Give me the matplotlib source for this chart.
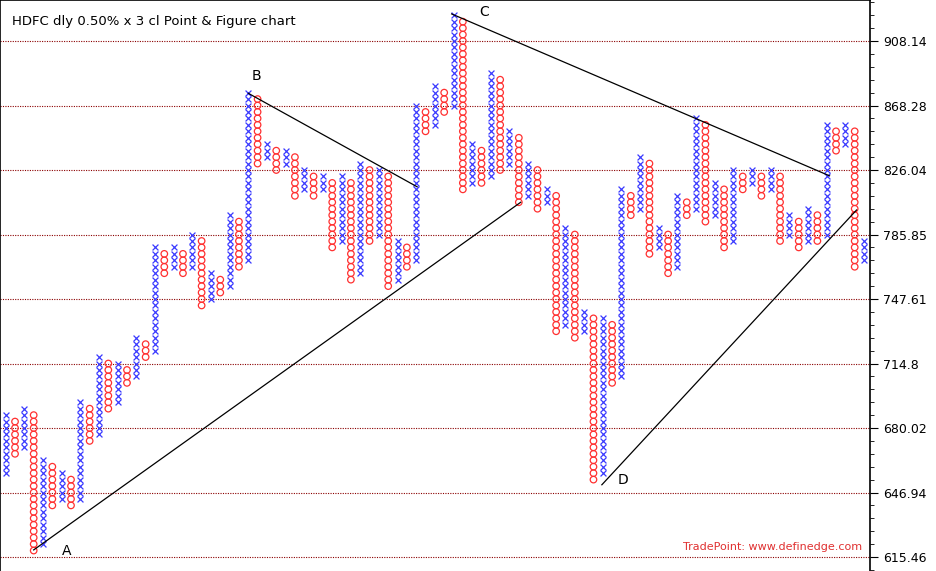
import matplotlib
matplotlib.use("Agg")
import matplotlib.pyplot as plt
import numpy as np

# columns alternate X, O starting with X; (low box, high box)
col_low = [13,16,17,1,2,8,9,8,9,18,19,23,24,27,28,31,32,44,45,44,45,39,40,41,42,45,46,61,62,60,61,56,
           57,56,57,48,49,43,44,49,50,42,43,45,46,66,67,69,70,57,58,58,59,60,61,55,56,54,55,35,
           36,34,35,12,13,27,28,53,54,47,48,44,45,53,54,52,53,48,49,57,58,56,57,49,50,48,49,49,50,63,64,45,46]
col_high = [22,21,23,22,15,14,13,12,24,23,31,30,30,29,34,33,48,47,48,47,50,49,44,43,53,52,72,71,64,63,63,62,
            60,59,59,58,59,58,61,60,60,59,49,48,70,69,73,72,84,83,64,63,75,74,66,65,61,60,57,56,
            51,50,38,37,37,36,57,56,62,61,51,50,56,55,68,67,58,57,60,59,60,59,60,59,53,52,54,53,67,66,67,66,49]
price_ticks_k = [0,10,20,30,40,50,60,70,80]
price_labels = ["615.46","646.94","680.02","714.8","747.61","785.85","826.04","868.28","908.14"]
trend_lines = [((3.0,1.1),(55.2,55.0)), ((26.0,71.9),(44.1,57.4)),
               ((47.8,84.2),(88.3,59.1)), ((63.9,11.2),(91.2,53.8))]
point_labels = [("A",6.0,1.0),("B",26.4,74.5),("C",50.8,84.5),("D",65.6,12.0)]

fig = plt.figure(figsize=(9.36,5.71), dpi=100)
ax = fig.add_axes([0,0,870/936,1])
xs_x, ys_x, xs_o, ys_o = [],[],[],[]
for i,(lo,hi) in enumerate(zip(col_low,col_high)):
    ks = list(range(lo,hi+1))
    if i%2==0:
        xs_x += [i]*len(ks); ys_x += ks
    else:
        xs_o += [i]*len(ks); ys_o += ks
ax.scatter(xs_x, ys_x, marker='x', s=18, c='#3a3aff', linewidths=0.9, zorder=3)
ax.scatter(xs_o, ys_o, marker='o', s=22, facecolors='none', edgecolors='#ff3030', linewidths=0.9, zorder=3)
for (p,q) in trend_lines:
    ax.plot([p[0],q[0]],[p[1],q[1]], color='black', lw=0.9, zorder=4)
for t,x,y in point_labels:
    ax.text(x,y,t,fontsize=10,ha='left',va='center')
for k in price_ticks_k:
    ax.axhline(k, color='#8b0000', ls=(0,(1,1.2)), lw=0.8, zorder=1)
ax.set_xlim(-0.61, 92.64)
ax.set_ylim(-2.17, 86.36)
ax.yaxis.tick_right()
ax.set_yticks(price_ticks_k)
ax.set_yticklabels(price_labels, fontsize=9)
ax.set_yticks(np.arange(-2,87,2), minor=True)
ax.tick_params(axis='y', which='major', length=6, direction='out')
ax.tick_params(axis='y', which='minor', length=3, direction='out')
ax.set_xticks([])
ax.spines['bottom'].set_visible(False)
for s in ['left','top','right']:
    ax.spines[s].set_linewidth(1.2)
fig.text(12/936, 1-22/571, "HDFC dly 0.50% x 3 cl Point & Figure chart", fontsize=9.5, va='center')
fig.text(683/936, 1-547/571, "TradePoint: www.definedge.com", fontsize=8, va='center', color='#e03030')
fig.savefig("out.png", dpi=100)
